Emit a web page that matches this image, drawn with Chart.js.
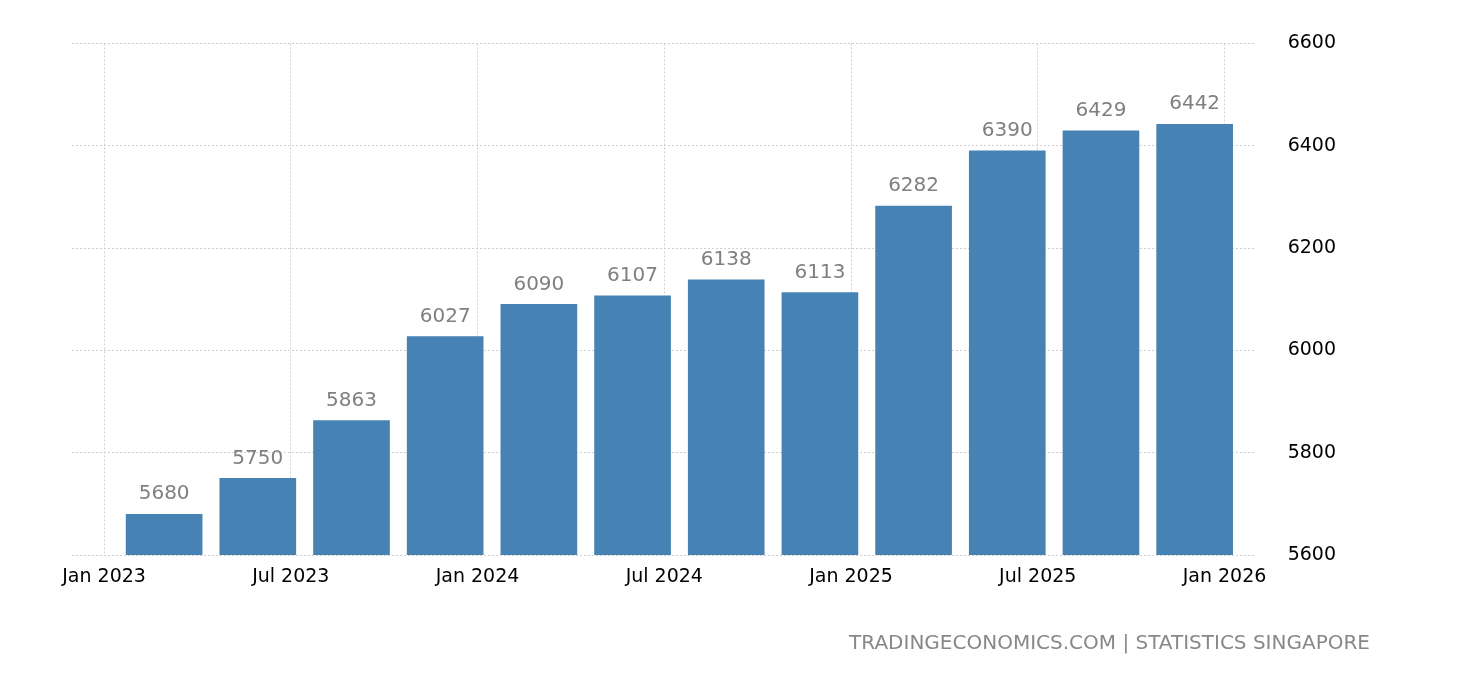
<!DOCTYPE html>
<html><head><meta charset="utf-8">
<script src="https://cdn.jsdelivr.net/npm/chart.js@4"></script>
<style>html,body{margin:0;padding:0;background:#fff}#w{position:relative;width:1460px;height:680px}
#f{position:absolute;right:90px;top:630px;font:20px "DejaVu Sans",sans-serif;color:#888}</style>
</head><body><div id="w"><canvas id="c" width="1460" height="680"></canvas><div id="f">TRADINGECONOMICS.COM | STATISTICS SINGAPORE</div></div>
<script>
const monthPos=[1.93,4.94,7.95,10.96,13.97,16.98,19.99,23.0,26.01,29.02,32.03,35.04];
const values=[5680,5750,5863,6027,6090,6107,6138,6113,6282,6390,6429,6442];
const tickMonths=[0,6,12,18,24,30,36];
const tickLabels=['Jan 2023','Jul 2023','Jan 2024','Jul 2024','Jan 2025','Jul 2025','Jan 2026'];
const labelsPlugin={id:'lbl',afterDatasetsDraw(ch){const ctx=ch.ctx;const m=ch.getDatasetMeta(0);ctx.save();ctx.font='20px "DejaVu Sans",sans-serif';ctx.fillStyle='#808080';ctx.textAlign='center';ctx.textBaseline='bottom';
m.data.forEach((b,i)=>ctx.fillText(values[i],b.x,b.y-10));ctx.restore();}};
new Chart(document.getElementById('c'),{type:'bar',
data:{datasets:[{data:monthPos.map((x,i)=>({x:x,y:values[i]})),backgroundColor:'#4682b4',barThickness:76,base:5600}]},
options:{responsive:false,animation:false,layout:{padding:{left:72,right:92,top:28,bottom:82}},
plugins:{legend:{display:false},tooltip:{enabled:false}},
scales:{x:{type:'linear',offset:false,min:-1.03,max:37,afterBuildTicks(a){a.ticks=tickMonths.map(v=>({value:v}));},
ticks:{callback:(v)=>tickLabels[tickMonths.indexOf(v)],color:'#000',font:{size:19,family:'DejaVu Sans'},maxRotation:0,autoSkip:false,padding:10},
grid:{color:'#d0d0d0',drawTicks:false,offset:false},border:{display:false,dash:[2,2]}},
y:{position:'right',min:5600,max:6600,ticks:{stepSize:200,color:'#000',font:{size:19,family:'DejaVu Sans'},padding:32,callback:v=>String(v)},
grid:{color:'#d0d0d0',drawTicks:false},border:{display:false,dash:[2,2]}}}},
plugins:[labelsPlugin]});
</script></body></html>
